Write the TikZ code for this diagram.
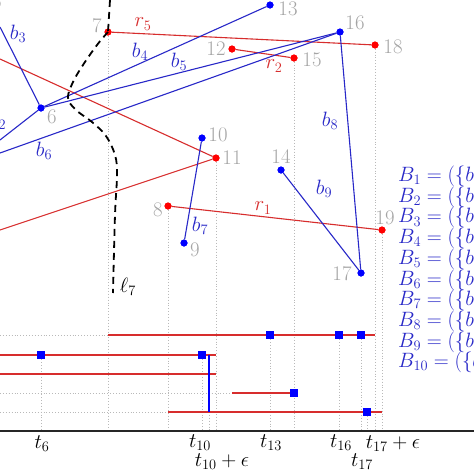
\documentclass[tikz,border=0pt]{standalone}
\usetikzlibrary{calc}
\definecolor{lblue}{RGB}{40,40,200}
\definecolor{lred}{RGB}{215,45,45}
\definecolor{numgray}{RGB}{165,165,165}
\begin{document}
\begin{tikzpicture}[x=1pt,y=-1pt,
  bfont/.style={font=\fontsize{20.74}{24}\selectfont},
  bdot/.style={circle,fill=blue,inner sep=0pt,minimum size=7pt},
  rdot/.style={circle,fill=red,inner sep=0pt,minimum size=7pt},
  num/.style={bfont,text=numgray,inner sep=0pt},
  blab/.style={bfont,text=lblue,inner sep=0pt},
  rlab/.style={bfont,text=lred,inner sep=0pt},
  bseg/.style={draw=lblue,line width=1.1pt},
  rseg/.style={draw=lred,line width=1.1pt},
  vdot/.style={draw=gray!55,dotted,line width=0.9pt},
  tsq/.style={rectangle,fill=blue,inner sep=0pt,minimum size=8.5pt},
  trow/.style={draw=lred,line width=1.2pt},
  tlab/.style={bfont,inner sep=0pt},
  btext/.style={bfont,text=lblue,inner sep=0pt,anchor=base west}
]
\clip (0,0) rectangle (474,474);
\fill[white] (0,0) rectangle (474,474);

% ---------- axis and timeline coordinates ----------
\coordinate (axL) at (0,431);
\coordinate (axR) at (474,431);

% dotted verticals from red points
\coordinate (a7) at (108,431);
\coordinate (a8) at (168,431);
\coordinate (a11) at (216,431);
\coordinate (a15) at (294,431);
\coordinate (a18) at (375,431);
\coordinate (a19) at (382,431);

% points
\node[bdot] (p6) at (41,108) {};
\node[rdot] (p7) at (108,32) {};
\node[rdot] (p8) at (168,206) {};
\node[bdot] (p9) at (184,243) {};
\node[bdot] (p10) at (202,138) {};
\node[rdot] (p11) at (216,158) {};
\node[rdot] (p12) at (232,49) {};
\node[bdot] (p13) at (270,5) {};
\node[bdot] (p14) at (281,170) {};
\node[rdot] (p15) at (294,58) {};
\node[bdot] (p16) at (340,32) {};
\node[bdot] (p17) at (361,273) {};
\node[rdot] (p18) at (375,45) {};
\node[rdot] (p19) at (382,230) {};

\draw[vdot] (p7) -- (a7);
\draw[vdot] (p8) -- (a8);
\draw[vdot] (p11) -- (a11);
\draw[vdot] (p15) -- (a15);
\draw[vdot] (p18) -- (a18);
\draw[vdot] (p19) -- (a19);

% free ends at the left border
\coordinate (e1) at (0,59);
\coordinate (e2) at (0,230);
\coordinate (e3) at (0,27);
\coordinate (e4) at (0,140);
\coordinate (e5) at (0,153);

% red segments
\draw[rseg] (p7) -- (p18);
\draw[rseg] (p12) -- (p15);
\draw[rseg] (p8) -- (p19);
\draw[rseg] (e1) -- (p11);
\draw[rseg] (p11) -- (e2);

% blue segments
\draw[bseg] (e3) -- (p6);
\draw[bseg] (e4) -- (p6);
\draw[bseg] (p6) -- (p13);
\draw[bseg] (p6) -- (p16);
\draw[bseg] (e5) -- (p16);
\draw[bseg] (p10) -- (p9);
\draw[bseg] (p16) -- (p17);
\draw[bseg] (p14) -- (p17);

% redraw dots on top
\foreach \p in {p6,p9,p10,p13,p14,p16,p17} \fill[blue] (\p) circle (3.5pt);
\foreach \p in {p7,p8,p11,p12,p15,p18,p19} \fill[red] (\p) circle (3.5pt);

% dashed curve l7
\coordinate (d0) at (110,0);
\draw[black,line width=1.8pt,dash pattern=on 7pt off 5pt]
  (d0) -- (p7.center) plot[smooth,tension=0.6] coordinates
  {(108,32) (97,45) (83,65) (73,82) (68,98) (76,110) (92,122) (106,136) (115,155) (117,175) (115,215) (113,293)};

% number labels
\node[num] (n5) at (-3,2) {5};
\node[num] (n6) at (52,117) {6};
\node[num] (n7) at (97,26) {7};
\node[num] (n8) at (158,210) {8};
\node[num] (n9) at (195,250) {9};
\node[num] (n10) at (218,135) {10};
\node[num] (n11) at (232,158) {11};
\node[num] (n12) at (216,49) {12};
\node[num] (n13) at (288,9) {13};
\node[num] (n14) at (281,157) {14};
\node[num] (n15) at (312,60) {15};
\node[num] (n16) at (355,23) {16};
\node[num] (n17) at (342,274) {17};
\node[num] (n18) at (393,47) {18};
\node[num] (n19) at (385,218) {19};

% segment labels
\node[rlab] (lr5) at (143,24) {$r_5$};
\node[rlab] (lr2) at (274,66) {$r_2$};
\node[rlab] (lr1) at (263,208) {$r_1$};
\node[blab] (lb2) at (-2,121) {$b_2$};
\node[blab] (lb3) at (18,34) {$b_3$};
\node[blab] (lb4) at (140,52) {$b_4$};
\node[blab] (lb5) at (179,62) {$b_5$};
\node[blab] (lb6) at (44,151) {$b_6$};
\node[blab] (lb7) at (200,226) {$b_7$};
\node[blab] (lb8) at (330,121) {$b_8$};
\node[blab] (lb9) at (324,189) {$b_9$};
\node[bfont,inner sep=0pt] (ll7) at (128,287) {$\ell_7$};

% ---------- timeline ----------
\coordinate (r1L) at (0,335);
\coordinate (r1a) at (108,335);
\coordinate (r1b) at (375,335);
\coordinate (r2L) at (0,355);
\coordinate (r2b) at (216,355);
\coordinate (r3L) at (0,374);
\coordinate (r3b) at (216,374);
\coordinate (r4L) at (0,393);
\coordinate (r4a) at (232,393);
\coordinate (r4b) at (294,393);
\coordinate (r5L) at (0,412);
\coordinate (r5a) at (168,412);
\coordinate (r5b) at (382,412);

\draw[vdot] (r1L) -- (r1a);
\draw[vdot] (r4L) -- (r4a);
\draw[vdot] (r5L) -- (r5a);

% squares
\node[tsq] (s6) at (41,355) {};
\node[tsq] (s10) at (202,355) {};
\node[tsq] (s13) at (270,335) {};
\node[tsq] (s16) at (339,335) {};
\node[tsq] (s17) at (361,335) {};
\node[tsq] (s15) at (294,393) {};
\node[tsq] (s17e) at (367,412) {};
\coordinate (c10e) at (209,355);
\coordinate (c10f) at (209,412);

\coordinate (b6) at (41,431);
\coordinate (b10) at (202,431);
\coordinate (b10e) at (209,431);
\coordinate (b13) at (270,431);
\coordinate (b16) at (339,431);
\coordinate (b17) at (361,431);
\coordinate (b17e) at (367,431);
\draw[vdot] (s6) -- (b6);
\draw[vdot] (s10) -- (b10);
\draw[vdot] (c10f) -- (b10e);
\draw[vdot] (s13) -- (b13);
\draw[vdot] (s16) -- (b16);
\draw[vdot] (s17) -- (b17);
\draw[vdot] (s17e) -- (b17e);

\draw[trow] (r1a) -- (r1b);
\draw[trow] (r2L) -- (r2b);
\draw[trow] (r3L) -- (r3b);
\draw[trow] (r4a) -- (r4b);
\draw[trow] (r5a) -- (r5b);
\draw[draw=blue,line width=1.5pt] (c10e) -- (c10f);

\foreach \s in {s6,s10,s13,s16,s17,s15,s17e} \fill[blue] ($(\s)+(-4.25,-4.25)$) rectangle ($(\s)+(4.25,4.25)$);

\draw[black!85,line width=1.2pt] (axL) -- (axR);

\node[tlab] (t6) at (42,444) {$t_6$};
\node[tlab] (t10) at (200,443) {$t_{10}$};
\node[tlab] (t10e) at (222,462) {$t_{10}+\epsilon$};
\node[tlab] (t13) at (271,443) {$t_{13}$};
\node[tlab] (t16) at (341,443) {$t_{16}$};
\node[tlab] (t17e) at (393,444) {$t_{17}+\epsilon$};
\node[tlab] (t17) at (362,462) {$t_{17}$};

% ---------- right-hand text ----------
\foreach \i in {1,...,10} {
  \node[btext] (B\i) at (398,{181.5+20.7*(\i-1)}) {$B_{\i} = (\{b_{\i}\},\{r_{\i}\})$};
}
\end{tikzpicture}
\end{document}
